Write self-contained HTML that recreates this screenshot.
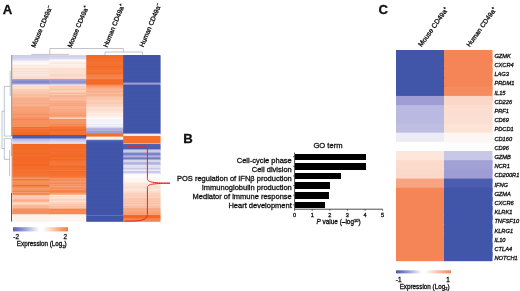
<!DOCTYPE html>
<html><head><meta charset="utf-8"><title>Figure</title>
<style>
html,body{margin:0;padding:0;background:#fff}
body{width:520px;height:291px;overflow:hidden}
svg{display:block;font-family:"Liberation Sans",Arial,Helvetica,sans-serif}
text{stroke:#111;stroke-width:0.3px}
</style></head><body>
<svg width="520" height="291" viewBox="0 0 520 291">
<defs>
<linearGradient id="cbA" x1="0" x2="1" y1="0" y2="0"><stop offset="0" stop-color="#5560b4"/><stop offset="0.24" stop-color="#a8a7d8"/><stop offset="0.48" stop-color="#ffffff"/><stop offset="0.54" stop-color="#ffffff"/><stop offset="1" stop-color="#f47a38"/></linearGradient>
<linearGradient id="cbC" x1="0" x2="1" y1="0" y2="0"><stop offset="0" stop-color="#4357aa"/><stop offset="0.24" stop-color="#a2a1d6"/><stop offset="0.47" stop-color="#ffffff"/><stop offset="0.52" stop-color="#ffffff"/><stop offset="1" stop-color="#f58556"/></linearGradient>
</defs>
<rect width="520" height="291" fill="#fff"/>
<!-- panel letters -->
<g font-weight="bold" font-size="13.2" fill="#111">
<text x="2.8" y="13.9">A</text>
<text x="183.2" y="143.1">B</text>
<text x="378.4" y="14">C</text>
</g>
<!-- A column labels -->
<g font-size="6.6" fill="#111">
<text transform="translate(35.0,48.1) rotate(-67)">Mouse CD49a<tspan font-size="4.5" dy="-2.6">–</tspan></text>
<text transform="translate(71.4,48.1) rotate(-67)">Mouse CD49a<tspan font-size="4.5" dy="-2.6">+</tspan></text>
<text transform="translate(107.2,47.8) rotate(-67.5)">Human CD49a<tspan font-size="4.5" dy="-2.6">+</tspan></text>
<text transform="translate(143.6,47.4) rotate(-67.5)">Human CD49a<tspan font-size="4.5" dy="-2.6">–</tspan></text>
</g>
<!-- top dendrogram -->
<path d="M49.8 54.4V48.5H123.4V52 M105.1 55V52H142.4V55 M31.4 54.4H69" fill="none" stroke="#9a9aa4" stroke-width="0.6"/>
<!-- left dendrogram -->
<path d="M10.2 70.9V96 M10.2 86.4H4.3V136.1 M4.3 111.2H2V148.5 M4.3 136.1H12.4 M4.3 138.6V159.4 M4.3 138.6H11.5 M2 148.5H4.3 M4.3 159.4H9.6 M9.6 150V176 M11.4 138.6V156" fill="none" stroke="#8c93ad" stroke-width="0.55"/>
<path d="M12 55V136 M11.6 193V221.6" fill="none" stroke="#333" stroke-width="0.9"/><path d="M12 143V193" fill="none" stroke="#8a8a90" stroke-width="0.7"/>
<g>
<rect x="12.50" y="55.00" width="37.97" height="1.60" fill="#cdcce9"/>
<rect x="12.50" y="55.80" width="37.97" height="1.60" fill="#cacae8"/>
<rect x="12.50" y="56.60" width="37.97" height="1.60" fill="#d9d9ee"/>
<rect x="12.50" y="57.40" width="37.97" height="1.60" fill="#cccbe8"/>
<rect x="12.50" y="58.20" width="37.97" height="1.60" fill="#dad9ef"/>
<rect x="12.50" y="59.00" width="37.97" height="1.60" fill="#dcdcf0"/>
<rect x="12.50" y="59.80" width="37.97" height="1.60" fill="#dfdff1"/>
<rect x="12.50" y="60.60" width="37.97" height="1.60" fill="#f6f6fb"/>
<rect x="12.50" y="61.40" width="37.97" height="1.60" fill="#f3f3fa"/>
<rect x="12.50" y="62.20" width="37.97" height="1.60" fill="#fef8f5"/>
<rect x="12.50" y="63.00" width="37.97" height="1.60" fill="#fffbf9"/>
<rect x="12.50" y="63.80" width="37.97" height="1.60" fill="#fef8f5"/>
<rect x="12.50" y="64.60" width="37.97" height="1.60" fill="#feeee7"/>
<rect x="12.50" y="65.40" width="37.97" height="1.60" fill="#fde4d7"/>
<rect x="12.50" y="66.20" width="37.97" height="1.60" fill="#fef1eb"/>
<rect x="12.50" y="67.00" width="37.97" height="1.60" fill="#feeee6"/>
<rect x="12.50" y="67.80" width="37.97" height="1.60" fill="#fde5d9"/>
<rect x="12.50" y="68.60" width="37.97" height="1.60" fill="#fcddcd"/>
<rect x="12.50" y="69.40" width="37.97" height="1.60" fill="#fde4d7"/>
<rect x="12.50" y="70.20" width="37.97" height="1.60" fill="#fde7dc"/>
<rect x="12.50" y="71.00" width="37.97" height="1.60" fill="#fcd9c8"/>
<rect x="12.50" y="71.80" width="37.97" height="1.60" fill="#fdece3"/>
<rect x="12.50" y="72.60" width="37.97" height="1.60" fill="#fcdac9"/>
<rect x="12.50" y="73.40" width="37.97" height="1.60" fill="#fde5d9"/>
<rect x="12.50" y="74.20" width="37.97" height="1.60" fill="#fde7dc"/>
<rect x="12.50" y="75.00" width="37.97" height="1.60" fill="#fde7dc"/>
<rect x="12.50" y="75.80" width="37.97" height="1.60" fill="#fde2d4"/>
<rect x="12.50" y="76.60" width="37.97" height="1.60" fill="#fcd6c4"/>
<rect x="12.50" y="77.40" width="37.97" height="1.60" fill="#fde2d6"/>
<rect x="12.50" y="78.20" width="37.97" height="1.60" fill="#fcd9c8"/>
<rect x="12.50" y="79.00" width="37.97" height="1.60" fill="#a6a5d8"/>
<rect x="12.50" y="79.80" width="37.97" height="1.60" fill="#9698d0"/>
<rect x="12.50" y="80.60" width="37.97" height="1.60" fill="#8a8ecb"/>
<rect x="12.50" y="81.40" width="37.97" height="1.60" fill="#7e85c5"/>
<rect x="12.50" y="82.20" width="37.97" height="1.60" fill="#878cca"/>
<rect x="12.50" y="83.00" width="37.97" height="1.60" fill="#9799d1"/>
<rect x="12.50" y="83.80" width="37.97" height="1.60" fill="#a7a6d8"/>
<rect x="12.50" y="84.60" width="37.97" height="1.60" fill="#f9f9fd"/>
<rect x="12.50" y="85.40" width="37.97" height="1.60" fill="#fcdccc"/>
<rect x="12.50" y="86.20" width="37.97" height="1.60" fill="#fcd5c2"/>
<rect x="12.50" y="87.00" width="37.97" height="1.60" fill="#fde0d2"/>
<rect x="12.50" y="87.80" width="37.97" height="1.60" fill="#fcdecf"/>
<rect x="12.50" y="88.60" width="37.97" height="1.60" fill="#fcd8c6"/>
<rect x="12.50" y="89.40" width="37.97" height="1.60" fill="#fbc9b0"/>
<rect x="12.50" y="90.20" width="37.97" height="1.60" fill="#fbcdb7"/>
<rect x="12.50" y="91.00" width="37.97" height="1.60" fill="#fbceb8"/>
<rect x="12.50" y="91.80" width="37.97" height="1.60" fill="#fac5ab"/>
<rect x="12.50" y="92.60" width="37.97" height="1.60" fill="#fac6ad"/>
<rect x="12.50" y="93.40" width="37.97" height="1.60" fill="#fbc8b0"/>
<rect x="12.50" y="94.20" width="37.97" height="1.60" fill="#f9b999"/>
<rect x="12.50" y="95.00" width="37.97" height="1.60" fill="#f9b999"/>
<rect x="12.50" y="95.80" width="37.97" height="1.60" fill="#fac3a8"/>
<rect x="12.50" y="96.60" width="37.97" height="1.60" fill="#f9b897"/>
<rect x="12.50" y="97.40" width="37.97" height="1.60" fill="#f9b696"/>
<rect x="12.50" y="98.20" width="37.97" height="1.60" fill="#f8ab84"/>
<rect x="12.50" y="99.00" width="37.97" height="1.60" fill="#f8ac87"/>
<rect x="12.50" y="99.80" width="37.97" height="1.60" fill="#f9b695"/>
<rect x="12.50" y="100.60" width="37.97" height="1.60" fill="#f8a278"/>
<rect x="12.50" y="101.40" width="37.97" height="1.60" fill="#f9b999"/>
<rect x="12.50" y="102.20" width="37.97" height="1.60" fill="#f9af8c"/>
<rect x="12.50" y="103.00" width="37.97" height="1.60" fill="#f8a57d"/>
<rect x="12.50" y="103.80" width="37.97" height="1.60" fill="#f9b593"/>
<rect x="12.50" y="104.60" width="37.97" height="1.60" fill="#f8aa84"/>
<rect x="12.50" y="105.40" width="37.97" height="1.60" fill="#f9b695"/>
<rect x="12.50" y="106.20" width="37.97" height="1.60" fill="#f8a47a"/>
<rect x="12.50" y="107.00" width="37.97" height="1.60" fill="#f7a075"/>
<rect x="12.50" y="107.80" width="37.97" height="1.60" fill="#f8a47b"/>
<rect x="12.50" y="108.60" width="37.97" height="1.60" fill="#f79b6e"/>
<rect x="12.50" y="109.40" width="37.97" height="1.60" fill="#f8a983"/>
<rect x="12.50" y="110.20" width="37.97" height="1.60" fill="#f79e72"/>
<rect x="12.50" y="111.00" width="37.97" height="1.60" fill="#f7a075"/>
<rect x="12.50" y="111.80" width="37.97" height="1.60" fill="#f79f73"/>
<rect x="12.50" y="112.60" width="37.97" height="1.60" fill="#f7a176"/>
<rect x="12.50" y="113.40" width="37.97" height="1.60" fill="#f79565"/>
<rect x="12.50" y="114.20" width="37.97" height="1.60" fill="#f6905e"/>
<rect x="12.50" y="115.00" width="37.97" height="1.60" fill="#f79b6e"/>
<rect x="12.50" y="115.80" width="37.97" height="1.60" fill="#f79464"/>
<rect x="12.50" y="116.60" width="37.97" height="1.60" fill="#f8a37a"/>
<rect x="12.50" y="117.40" width="37.97" height="1.60" fill="#f6905e"/>
<rect x="12.50" y="118.20" width="37.97" height="1.60" fill="#f6905e"/>
<rect x="12.50" y="119.00" width="37.97" height="1.60" fill="#f5854f"/>
<rect x="12.50" y="119.80" width="37.97" height="1.60" fill="#f68953"/>
<rect x="12.50" y="120.60" width="37.97" height="1.60" fill="#f79666"/>
<rect x="12.50" y="121.40" width="37.97" height="1.60" fill="#f69260"/>
<rect x="12.50" y="122.20" width="37.97" height="1.60" fill="#f68953"/>
<rect x="12.50" y="123.00" width="37.97" height="1.60" fill="#f7996b"/>
<rect x="12.50" y="123.80" width="37.97" height="1.60" fill="#f68b57"/>
<rect x="12.50" y="124.60" width="37.97" height="1.60" fill="#f69261"/>
<rect x="12.50" y="125.40" width="37.97" height="1.60" fill="#f69261"/>
<rect x="12.50" y="126.20" width="37.97" height="1.60" fill="#f6905e"/>
<rect x="12.50" y="127.00" width="37.97" height="1.60" fill="#f36926"/>
<rect x="12.50" y="127.80" width="37.97" height="1.60" fill="#f4783b"/>
<rect x="12.50" y="128.60" width="37.97" height="1.60" fill="#f47435"/>
<rect x="12.50" y="129.40" width="37.97" height="1.60" fill="#f46f2e"/>
<rect x="12.50" y="130.20" width="37.97" height="1.60" fill="#f36824"/>
<rect x="12.50" y="131.00" width="37.97" height="1.60" fill="#f47638"/>
<rect x="12.50" y="131.80" width="37.97" height="1.60" fill="#f36b29"/>
<rect x="12.50" y="132.60" width="37.97" height="1.60" fill="#f36824"/>
<rect x="12.50" y="133.40" width="37.97" height="1.60" fill="#f36824"/>
<rect x="12.50" y="134.20" width="37.97" height="1.60" fill="#f36824"/>
<rect x="12.50" y="135.00" width="37.97" height="1.60" fill="#4b5dae"/>
<rect x="12.50" y="135.80" width="37.97" height="1.60" fill="#4b5dae"/>
<rect x="12.50" y="136.60" width="37.97" height="1.60" fill="#4b5dae"/>
<rect x="12.50" y="137.40" width="37.97" height="1.60" fill="#4b5dae"/>
<rect x="12.50" y="138.20" width="37.97" height="1.60" fill="#9899d1"/>
<rect x="12.50" y="139.00" width="37.97" height="1.60" fill="#b8b7e0"/>
<rect x="12.50" y="139.80" width="37.97" height="1.60" fill="#c0c0e3"/>
<rect x="12.50" y="140.60" width="37.97" height="1.60" fill="#c9c8e7"/>
<rect x="12.50" y="141.40" width="37.97" height="1.60" fill="#d2d2eb"/>
<rect x="12.50" y="142.20" width="37.97" height="1.60" fill="#dcdbef"/>
<rect x="12.50" y="143.00" width="37.97" height="1.60" fill="#ebeaf6"/>
<rect x="12.50" y="143.80" width="37.97" height="1.60" fill="#f36824"/>
<rect x="12.50" y="144.60" width="37.97" height="1.60" fill="#f36824"/>
<rect x="12.50" y="145.40" width="37.97" height="1.60" fill="#f36c29"/>
<rect x="12.50" y="146.20" width="37.97" height="1.60" fill="#f36a26"/>
<rect x="12.50" y="147.00" width="37.97" height="1.60" fill="#f36b28"/>
<rect x="12.50" y="147.80" width="37.97" height="1.60" fill="#f36824"/>
<rect x="12.50" y="148.60" width="37.97" height="1.60" fill="#f36824"/>
<rect x="12.50" y="149.40" width="37.97" height="1.60" fill="#f36e2d"/>
<rect x="12.50" y="150.20" width="37.97" height="1.60" fill="#f36e2c"/>
<rect x="12.50" y="151.00" width="37.97" height="1.60" fill="#f36d2b"/>
<rect x="12.50" y="151.80" width="37.97" height="1.60" fill="#f36d2c"/>
<rect x="12.50" y="152.60" width="37.97" height="1.60" fill="#f36a26"/>
<rect x="12.50" y="153.40" width="37.97" height="1.60" fill="#f36824"/>
<rect x="12.50" y="154.20" width="37.97" height="1.60" fill="#f36d2b"/>
<rect x="12.50" y="155.00" width="37.97" height="1.60" fill="#f47131"/>
<rect x="12.50" y="155.80" width="37.97" height="1.60" fill="#f36b28"/>
<rect x="12.50" y="156.60" width="37.97" height="1.60" fill="#f36c2a"/>
<rect x="12.50" y="157.40" width="37.97" height="1.60" fill="#f36925"/>
<rect x="12.50" y="158.20" width="37.97" height="1.60" fill="#f36824"/>
<rect x="12.50" y="159.00" width="37.97" height="1.60" fill="#f36824"/>
<rect x="12.50" y="159.80" width="37.97" height="1.60" fill="#f36a27"/>
<rect x="12.50" y="160.60" width="37.97" height="1.60" fill="#f36925"/>
<rect x="12.50" y="161.40" width="37.97" height="1.60" fill="#f36824"/>
<rect x="12.50" y="162.20" width="37.97" height="1.60" fill="#f47132"/>
<rect x="12.50" y="163.00" width="37.97" height="1.60" fill="#f36824"/>
<rect x="12.50" y="163.80" width="37.97" height="1.60" fill="#f36824"/>
<rect x="12.50" y="164.60" width="37.97" height="1.60" fill="#f36824"/>
<rect x="12.50" y="165.40" width="37.97" height="1.60" fill="#f36824"/>
<rect x="12.50" y="166.20" width="37.97" height="1.60" fill="#f36d2b"/>
<rect x="12.50" y="167.00" width="37.97" height="1.60" fill="#f36d2b"/>
<rect x="12.50" y="167.80" width="37.97" height="1.60" fill="#f47132"/>
<rect x="12.50" y="168.60" width="37.97" height="1.60" fill="#f36a26"/>
<rect x="12.50" y="169.40" width="37.97" height="1.60" fill="#f47233"/>
<rect x="12.50" y="170.20" width="37.97" height="1.60" fill="#f47233"/>
<rect x="12.50" y="171.00" width="37.97" height="1.60" fill="#f47030"/>
<rect x="12.50" y="171.80" width="37.97" height="1.60" fill="#f47131"/>
<rect x="12.50" y="172.60" width="37.97" height="1.60" fill="#f46f2d"/>
<rect x="12.50" y="173.40" width="37.97" height="1.60" fill="#f47334"/>
<rect x="12.50" y="174.20" width="37.97" height="1.60" fill="#f47435"/>
<rect x="12.50" y="175.00" width="37.97" height="1.60" fill="#f47232"/>
<rect x="12.50" y="175.80" width="37.97" height="1.60" fill="#f4773a"/>
<rect x="12.50" y="176.60" width="37.97" height="1.60" fill="#f5834b"/>
<rect x="12.50" y="177.40" width="37.97" height="1.60" fill="#f68a55"/>
<rect x="12.50" y="178.20" width="37.97" height="1.60" fill="#f79b6d"/>
<rect x="12.50" y="179.00" width="37.97" height="1.60" fill="#f47232"/>
<rect x="12.50" y="179.80" width="37.97" height="1.60" fill="#f57f45"/>
<rect x="12.50" y="180.60" width="37.97" height="1.60" fill="#f79666"/>
<rect x="12.50" y="181.40" width="37.97" height="1.60" fill="#f6915f"/>
<rect x="12.50" y="182.20" width="37.97" height="1.60" fill="#f68d59"/>
<rect x="12.50" y="183.00" width="37.97" height="1.60" fill="#f68c58"/>
<rect x="12.50" y="183.80" width="37.97" height="1.60" fill="#f79869"/>
<rect x="12.50" y="184.60" width="37.97" height="1.60" fill="#f47537"/>
<rect x="12.50" y="185.40" width="37.97" height="1.60" fill="#f46e2d"/>
<rect x="12.50" y="186.20" width="37.97" height="1.60" fill="#f68853"/>
<rect x="12.50" y="187.00" width="37.97" height="1.60" fill="#f68852"/>
<rect x="12.50" y="187.80" width="37.97" height="1.60" fill="#f79b6e"/>
<rect x="12.50" y="188.60" width="37.97" height="1.60" fill="#f79b6d"/>
<rect x="12.50" y="189.40" width="37.97" height="1.60" fill="#f68f5d"/>
<rect x="12.50" y="190.20" width="37.97" height="1.60" fill="#f69363"/>
<rect x="12.50" y="191.00" width="37.97" height="1.60" fill="#f4783c"/>
<rect x="12.50" y="191.80" width="37.97" height="1.60" fill="#f7996b"/>
<rect x="12.50" y="192.60" width="37.97" height="1.60" fill="#f7a075"/>
<rect x="12.50" y="193.40" width="37.97" height="1.60" fill="#f47334"/>
<rect x="12.50" y="194.20" width="37.97" height="1.60" fill="#f7986a"/>
<rect x="12.50" y="195.00" width="37.97" height="1.60" fill="#fac0a3"/>
<rect x="12.50" y="195.80" width="37.97" height="1.60" fill="#fbceb8"/>
<rect x="12.50" y="196.60" width="37.97" height="1.60" fill="#fac5aa"/>
<rect x="12.50" y="197.40" width="37.97" height="1.60" fill="#fbd1bc"/>
<rect x="12.50" y="198.20" width="37.97" height="1.60" fill="#fac5ab"/>
<rect x="12.50" y="199.00" width="37.97" height="1.60" fill="#faba9b"/>
<rect x="12.50" y="199.80" width="37.97" height="1.60" fill="#f8ab85"/>
<rect x="12.50" y="200.60" width="37.97" height="1.60" fill="#f9af8b"/>
<rect x="12.50" y="201.40" width="37.97" height="1.60" fill="#f9b99a"/>
<rect x="12.50" y="202.20" width="37.97" height="1.60" fill="#fcd5c2"/>
<rect x="12.50" y="203.00" width="37.97" height="1.60" fill="#fcdac9"/>
<rect x="12.50" y="203.80" width="37.97" height="1.60" fill="#fbcbb4"/>
<rect x="12.50" y="204.60" width="37.97" height="1.60" fill="#fbd1bc"/>
<rect x="12.50" y="205.40" width="37.97" height="1.60" fill="#f8ad88"/>
<rect x="12.50" y="206.20" width="37.97" height="1.60" fill="#f9b897"/>
<rect x="12.50" y="207.00" width="37.97" height="1.60" fill="#faba9b"/>
<rect x="12.50" y="207.80" width="37.97" height="1.60" fill="#f8ac87"/>
<rect x="12.50" y="208.60" width="37.97" height="1.60" fill="#f6915f"/>
<rect x="12.50" y="209.40" width="37.97" height="1.60" fill="#f69160"/>
<rect x="12.50" y="210.20" width="37.97" height="1.60" fill="#f6905e"/>
<rect x="12.50" y="211.00" width="37.97" height="1.60" fill="#f68e5b"/>
<rect x="12.50" y="211.80" width="37.97" height="1.60" fill="#f68d5a"/>
<rect x="12.50" y="212.60" width="37.97" height="1.60" fill="#f79769"/>
<rect x="12.50" y="213.40" width="37.97" height="1.60" fill="#f68e5b"/>
<rect x="12.50" y="214.20" width="37.97" height="1.60" fill="#fef0e9"/>
<rect x="12.50" y="215.00" width="37.97" height="1.60" fill="#fef0ea"/>
<rect x="12.50" y="215.80" width="37.97" height="1.60" fill="#fef1ea"/>
<rect x="12.50" y="216.60" width="37.97" height="1.60" fill="#fef1eb"/>
<rect x="12.50" y="217.40" width="37.97" height="1.60" fill="#fef1eb"/>
<rect x="12.50" y="218.20" width="37.97" height="1.60" fill="#fef2ec"/>
<rect x="12.50" y="219.00" width="37.97" height="1.60" fill="#fef2ec"/>
<rect x="12.50" y="219.80" width="37.97" height="1.60" fill="#fef2ed"/>
<rect x="12.50" y="220.60" width="37.97" height="1.00" fill="#fef3ed"/>
<rect x="12.50" y="221.40" width="37.97" height="0.20" fill="#fef3ed"/>
<rect x="49.47" y="55.00" width="37.97" height="1.60" fill="#d7d6ed"/>
<rect x="49.47" y="55.80" width="37.97" height="1.60" fill="#d0cfea"/>
<rect x="49.47" y="56.60" width="37.97" height="1.60" fill="#d1d1eb"/>
<rect x="49.47" y="57.40" width="37.97" height="1.60" fill="#d9d9ee"/>
<rect x="49.47" y="58.20" width="37.97" height="1.60" fill="#dadaef"/>
<rect x="49.47" y="59.00" width="37.97" height="1.60" fill="#ebebf6"/>
<rect x="49.47" y="59.80" width="37.97" height="1.60" fill="#fcfcfe"/>
<rect x="49.47" y="60.60" width="37.97" height="1.60" fill="#f8f8fc"/>
<rect x="49.47" y="61.40" width="37.97" height="1.60" fill="#fef2ed"/>
<rect x="49.47" y="62.20" width="37.97" height="1.60" fill="#fdeae0"/>
<rect x="49.47" y="63.00" width="37.97" height="1.60" fill="#fde5da"/>
<rect x="49.47" y="63.80" width="37.97" height="1.60" fill="#fef0e9"/>
<rect x="49.47" y="64.60" width="37.97" height="1.60" fill="#fef1ea"/>
<rect x="49.47" y="65.40" width="37.97" height="1.60" fill="#feefe7"/>
<rect x="49.47" y="66.20" width="37.97" height="1.60" fill="#feeee6"/>
<rect x="49.47" y="67.00" width="37.97" height="1.60" fill="#feede5"/>
<rect x="49.47" y="67.80" width="37.97" height="1.60" fill="#fde3d7"/>
<rect x="49.47" y="68.60" width="37.97" height="1.60" fill="#fcdccd"/>
<rect x="49.47" y="69.40" width="37.97" height="1.60" fill="#fcddcd"/>
<rect x="49.47" y="70.20" width="37.97" height="1.60" fill="#fde3d7"/>
<rect x="49.47" y="71.00" width="37.97" height="1.60" fill="#fcdfd0"/>
<rect x="49.47" y="71.80" width="37.97" height="1.60" fill="#fcdbca"/>
<rect x="49.47" y="72.60" width="37.97" height="1.60" fill="#fde9df"/>
<rect x="49.47" y="73.40" width="37.97" height="1.60" fill="#fcdccc"/>
<rect x="49.47" y="74.20" width="37.97" height="1.60" fill="#fcd5c3"/>
<rect x="49.47" y="75.00" width="37.97" height="1.60" fill="#fcd7c5"/>
<rect x="49.47" y="75.80" width="37.97" height="1.60" fill="#fcd7c5"/>
<rect x="49.47" y="76.60" width="37.97" height="1.60" fill="#fcdccc"/>
<rect x="49.47" y="77.40" width="37.97" height="1.60" fill="#fde1d3"/>
<rect x="49.47" y="78.20" width="37.97" height="1.60" fill="#fcd3bf"/>
<rect x="49.47" y="79.00" width="37.97" height="1.60" fill="#a7a6d8"/>
<rect x="49.47" y="79.80" width="37.97" height="1.60" fill="#a2a1d6"/>
<rect x="49.47" y="80.60" width="37.97" height="1.60" fill="#9799d1"/>
<rect x="49.47" y="81.40" width="37.97" height="1.60" fill="#8d91cc"/>
<rect x="49.47" y="82.20" width="37.97" height="1.60" fill="#9597d0"/>
<rect x="49.47" y="83.00" width="37.97" height="1.60" fill="#a4a3d7"/>
<rect x="49.47" y="83.80" width="37.97" height="1.60" fill="#b1b0dd"/>
<rect x="49.47" y="84.60" width="37.97" height="1.60" fill="#ffffff"/>
<rect x="49.47" y="85.40" width="37.97" height="1.60" fill="#fbcdb7"/>
<rect x="49.47" y="86.20" width="37.97" height="1.60" fill="#fbc7ad"/>
<rect x="49.47" y="87.00" width="37.97" height="1.60" fill="#fcd4c1"/>
<rect x="49.47" y="87.80" width="37.97" height="1.60" fill="#fbd2be"/>
<rect x="49.47" y="88.60" width="37.97" height="1.60" fill="#fac2a6"/>
<rect x="49.47" y="89.40" width="37.97" height="1.60" fill="#fac6ac"/>
<rect x="49.47" y="90.20" width="37.97" height="1.60" fill="#fbd3bf"/>
<rect x="49.47" y="91.00" width="37.97" height="1.60" fill="#fbd2be"/>
<rect x="49.47" y="91.80" width="37.97" height="1.60" fill="#fbd0ba"/>
<rect x="49.47" y="92.60" width="37.97" height="1.60" fill="#f9b99a"/>
<rect x="49.47" y="93.40" width="37.97" height="1.60" fill="#faba9b"/>
<rect x="49.47" y="94.20" width="37.97" height="1.60" fill="#fbcab2"/>
<rect x="49.47" y="95.00" width="37.97" height="1.60" fill="#f9b695"/>
<rect x="49.47" y="95.80" width="37.97" height="1.60" fill="#f9b08c"/>
<rect x="49.47" y="96.60" width="37.97" height="1.60" fill="#f9b696"/>
<rect x="49.47" y="97.40" width="37.97" height="1.60" fill="#fabd9f"/>
<rect x="49.47" y="98.20" width="37.97" height="1.60" fill="#f9b694"/>
<rect x="49.47" y="99.00" width="37.97" height="1.60" fill="#fabfa2"/>
<rect x="49.47" y="99.80" width="37.97" height="1.60" fill="#fac0a4"/>
<rect x="49.47" y="100.60" width="37.97" height="1.60" fill="#f8a57d"/>
<rect x="49.47" y="101.40" width="37.97" height="1.60" fill="#f8ad88"/>
<rect x="49.47" y="102.20" width="37.97" height="1.60" fill="#f9b08c"/>
<rect x="49.47" y="103.00" width="37.97" height="1.60" fill="#f8a37a"/>
<rect x="49.47" y="103.80" width="37.97" height="1.60" fill="#f9b08c"/>
<rect x="49.47" y="104.60" width="37.97" height="1.60" fill="#f8a37a"/>
<rect x="49.47" y="105.40" width="37.97" height="1.60" fill="#f8a37a"/>
<rect x="49.47" y="106.20" width="37.97" height="1.60" fill="#f9b391"/>
<rect x="49.47" y="107.00" width="37.97" height="1.60" fill="#f9b18e"/>
<rect x="49.47" y="107.80" width="37.97" height="1.60" fill="#f9af8b"/>
<rect x="49.47" y="108.60" width="37.97" height="1.60" fill="#f9af8b"/>
<rect x="49.47" y="109.40" width="37.97" height="1.60" fill="#f8a57c"/>
<rect x="49.47" y="110.20" width="37.97" height="1.60" fill="#f8ad88"/>
<rect x="49.47" y="111.00" width="37.97" height="1.60" fill="#f8a780"/>
<rect x="49.47" y="111.80" width="37.97" height="1.60" fill="#f9ae8a"/>
<rect x="49.47" y="112.60" width="37.97" height="1.60" fill="#f79769"/>
<rect x="49.47" y="113.40" width="37.97" height="1.60" fill="#f8a57c"/>
<rect x="49.47" y="114.20" width="37.97" height="1.60" fill="#f8a176"/>
<rect x="49.47" y="115.00" width="37.97" height="1.60" fill="#f79c6f"/>
<rect x="49.47" y="115.80" width="37.97" height="1.60" fill="#f69160"/>
<rect x="49.47" y="116.60" width="37.97" height="1.60" fill="#f9b999"/>
<rect x="49.47" y="117.40" width="37.97" height="1.60" fill="#fac6ad"/>
<rect x="49.47" y="118.20" width="37.97" height="1.60" fill="#fbd2bd"/>
<rect x="49.47" y="119.00" width="37.97" height="1.60" fill="#f69160"/>
<rect x="49.47" y="119.80" width="37.97" height="1.60" fill="#f6905e"/>
<rect x="49.47" y="120.60" width="37.97" height="1.60" fill="#f79d70"/>
<rect x="49.47" y="121.40" width="37.97" height="1.60" fill="#f6905e"/>
<rect x="49.47" y="122.20" width="37.97" height="1.60" fill="#f79566"/>
<rect x="49.47" y="123.00" width="37.97" height="1.60" fill="#f7996b"/>
<rect x="49.47" y="123.80" width="37.97" height="1.60" fill="#f5824a"/>
<rect x="49.47" y="124.60" width="37.97" height="1.60" fill="#f69260"/>
<rect x="49.47" y="125.40" width="37.97" height="1.60" fill="#f68853"/>
<rect x="49.47" y="126.20" width="37.97" height="1.60" fill="#f57e44"/>
<rect x="49.47" y="127.00" width="37.97" height="1.60" fill="#f47232"/>
<rect x="49.47" y="127.80" width="37.97" height="1.60" fill="#f47537"/>
<rect x="49.47" y="128.60" width="37.97" height="1.60" fill="#f4702f"/>
<rect x="49.47" y="129.40" width="37.97" height="1.60" fill="#f36e2d"/>
<rect x="49.47" y="130.20" width="37.97" height="1.60" fill="#f36824"/>
<rect x="49.47" y="131.00" width="37.97" height="1.60" fill="#f4793d"/>
<rect x="49.47" y="131.80" width="37.97" height="1.60" fill="#f36c2a"/>
<rect x="49.47" y="132.60" width="37.97" height="1.60" fill="#f47436"/>
<rect x="49.47" y="133.40" width="37.97" height="1.60" fill="#f47334"/>
<rect x="49.47" y="134.20" width="37.97" height="1.60" fill="#f36d2b"/>
<rect x="49.47" y="135.00" width="37.97" height="1.60" fill="#4b5dae"/>
<rect x="49.47" y="135.80" width="37.97" height="1.60" fill="#4b5dae"/>
<rect x="49.47" y="136.60" width="37.97" height="1.60" fill="#4b5dae"/>
<rect x="49.47" y="137.40" width="37.97" height="1.60" fill="#4b5dae"/>
<rect x="49.47" y="138.20" width="37.97" height="1.60" fill="#9e9ed4"/>
<rect x="49.47" y="139.00" width="37.97" height="1.60" fill="#c0bfe3"/>
<rect x="49.47" y="139.80" width="37.97" height="1.60" fill="#c8c7e7"/>
<rect x="49.47" y="140.60" width="37.97" height="1.60" fill="#d0d0ea"/>
<rect x="49.47" y="141.40" width="37.97" height="1.60" fill="#d8d8ee"/>
<rect x="49.47" y="142.20" width="37.97" height="1.60" fill="#e1e1f2"/>
<rect x="49.47" y="143.00" width="37.97" height="1.60" fill="#eeeef8"/>
<rect x="49.47" y="143.80" width="37.97" height="1.60" fill="#f36824"/>
<rect x="49.47" y="144.60" width="37.97" height="1.60" fill="#f36d2b"/>
<rect x="49.47" y="145.40" width="37.97" height="1.60" fill="#f36c29"/>
<rect x="49.47" y="146.20" width="37.97" height="1.60" fill="#f36824"/>
<rect x="49.47" y="147.00" width="37.97" height="1.60" fill="#f36824"/>
<rect x="49.47" y="147.80" width="37.97" height="1.60" fill="#f46f2e"/>
<rect x="49.47" y="148.60" width="37.97" height="1.60" fill="#f36b29"/>
<rect x="49.47" y="149.40" width="37.97" height="1.60" fill="#f36e2c"/>
<rect x="49.47" y="150.20" width="37.97" height="1.60" fill="#f36e2c"/>
<rect x="49.47" y="151.00" width="37.97" height="1.60" fill="#f36a27"/>
<rect x="49.47" y="151.80" width="37.97" height="1.60" fill="#f46f2e"/>
<rect x="49.47" y="152.60" width="37.97" height="1.60" fill="#f36e2c"/>
<rect x="49.47" y="153.40" width="37.97" height="1.60" fill="#f46f2e"/>
<rect x="49.47" y="154.20" width="37.97" height="1.60" fill="#f36824"/>
<rect x="49.47" y="155.00" width="37.97" height="1.60" fill="#f36a28"/>
<rect x="49.47" y="155.80" width="37.97" height="1.60" fill="#f36824"/>
<rect x="49.47" y="156.60" width="37.97" height="1.60" fill="#f36824"/>
<rect x="49.47" y="157.40" width="37.97" height="1.60" fill="#f47436"/>
<rect x="49.47" y="158.20" width="37.97" height="1.60" fill="#f36e2d"/>
<rect x="49.47" y="159.00" width="37.97" height="1.60" fill="#f36824"/>
<rect x="49.47" y="159.80" width="37.97" height="1.60" fill="#f36825"/>
<rect x="49.47" y="160.60" width="37.97" height="1.60" fill="#f4773a"/>
<rect x="49.47" y="161.40" width="37.97" height="1.60" fill="#f4783b"/>
<rect x="49.47" y="162.20" width="37.97" height="1.60" fill="#f47131"/>
<rect x="49.47" y="163.00" width="37.97" height="1.60" fill="#f4793d"/>
<rect x="49.47" y="163.80" width="37.97" height="1.60" fill="#f47638"/>
<rect x="49.47" y="164.60" width="37.97" height="1.60" fill="#f47a3d"/>
<rect x="49.47" y="165.40" width="37.97" height="1.60" fill="#f36d2b"/>
<rect x="49.47" y="166.20" width="37.97" height="1.60" fill="#f36b28"/>
<rect x="49.47" y="167.00" width="37.97" height="1.60" fill="#f36925"/>
<rect x="49.47" y="167.80" width="37.97" height="1.60" fill="#f4783c"/>
<rect x="49.47" y="168.60" width="37.97" height="1.60" fill="#f36d2b"/>
<rect x="49.47" y="169.40" width="37.97" height="1.60" fill="#f36e2d"/>
<rect x="49.47" y="170.20" width="37.97" height="1.60" fill="#f4793d"/>
<rect x="49.47" y="171.00" width="37.97" height="1.60" fill="#f36a26"/>
<rect x="49.47" y="171.80" width="37.97" height="1.60" fill="#f36824"/>
<rect x="49.47" y="172.60" width="37.97" height="1.60" fill="#f4783b"/>
<rect x="49.47" y="173.40" width="37.97" height="1.60" fill="#f36925"/>
<rect x="49.47" y="174.20" width="37.97" height="1.60" fill="#f47436"/>
<rect x="49.47" y="175.00" width="37.97" height="1.60" fill="#f47334"/>
<rect x="49.47" y="175.80" width="37.97" height="1.60" fill="#f36d2b"/>
<rect x="49.47" y="176.60" width="37.97" height="1.60" fill="#f68954"/>
<rect x="49.47" y="177.40" width="37.97" height="1.60" fill="#f47a3d"/>
<rect x="49.47" y="178.20" width="37.97" height="1.60" fill="#f79a6d"/>
<rect x="49.47" y="179.00" width="37.97" height="1.60" fill="#f68e5b"/>
<rect x="49.47" y="179.80" width="37.97" height="1.60" fill="#f68a56"/>
<rect x="49.47" y="180.60" width="37.97" height="1.60" fill="#f69362"/>
<rect x="49.47" y="181.40" width="37.97" height="1.60" fill="#f79a6d"/>
<rect x="49.47" y="182.20" width="37.97" height="1.60" fill="#f79565"/>
<rect x="49.47" y="183.00" width="37.97" height="1.60" fill="#f58249"/>
<rect x="49.47" y="183.80" width="37.97" height="1.60" fill="#f8a47b"/>
<rect x="49.47" y="184.60" width="37.97" height="1.60" fill="#f68b56"/>
<rect x="49.47" y="185.40" width="37.97" height="1.60" fill="#f6915f"/>
<rect x="49.47" y="186.20" width="37.97" height="1.60" fill="#f8a67d"/>
<rect x="49.47" y="187.00" width="37.97" height="1.60" fill="#f79768"/>
<rect x="49.47" y="187.80" width="37.97" height="1.60" fill="#f68954"/>
<rect x="49.47" y="188.60" width="37.97" height="1.60" fill="#f68f5c"/>
<rect x="49.47" y="189.40" width="37.97" height="1.60" fill="#f8a57c"/>
<rect x="49.47" y="190.20" width="37.97" height="1.60" fill="#f4793d"/>
<rect x="49.47" y="191.00" width="37.97" height="1.60" fill="#f5834b"/>
<rect x="49.47" y="191.80" width="37.97" height="1.60" fill="#f47a3f"/>
<rect x="49.47" y="192.60" width="37.97" height="1.60" fill="#f8a57c"/>
<rect x="49.47" y="193.40" width="37.97" height="1.60" fill="#f79d71"/>
<rect x="49.47" y="194.20" width="37.97" height="1.60" fill="#f9b390"/>
<rect x="49.47" y="195.00" width="37.97" height="1.60" fill="#fde9df"/>
<rect x="49.47" y="195.80" width="37.97" height="1.60" fill="#fcd6c4"/>
<rect x="49.47" y="196.60" width="37.97" height="1.60" fill="#fde2d5"/>
<rect x="49.47" y="197.40" width="37.97" height="1.60" fill="#fde5da"/>
<rect x="49.47" y="198.20" width="37.97" height="1.60" fill="#fcdecf"/>
<rect x="49.47" y="199.00" width="37.97" height="1.60" fill="#fbd2bd"/>
<rect x="49.47" y="199.80" width="37.97" height="1.60" fill="#fcd3c0"/>
<rect x="49.47" y="200.60" width="37.97" height="1.60" fill="#fde1d3"/>
<rect x="49.47" y="201.40" width="37.97" height="1.60" fill="#fde3d6"/>
<rect x="49.47" y="202.20" width="37.97" height="1.60" fill="#fbd0bb"/>
<rect x="49.47" y="203.00" width="37.97" height="1.60" fill="#fcd8c6"/>
<rect x="49.47" y="203.80" width="37.97" height="1.60" fill="#fabea0"/>
<rect x="49.47" y="204.60" width="37.97" height="1.60" fill="#fbccb5"/>
<rect x="49.47" y="205.40" width="37.97" height="1.60" fill="#fbccb5"/>
<rect x="49.47" y="206.20" width="37.97" height="1.60" fill="#fabc9e"/>
<rect x="49.47" y="207.00" width="37.97" height="1.60" fill="#fac2a7"/>
<rect x="49.47" y="207.80" width="37.97" height="1.60" fill="#fbcab2"/>
<rect x="49.47" y="208.60" width="37.97" height="1.60" fill="#f5834b"/>
<rect x="49.47" y="209.40" width="37.97" height="1.60" fill="#f68a55"/>
<rect x="49.47" y="210.20" width="37.97" height="1.60" fill="#f5854e"/>
<rect x="49.47" y="211.00" width="37.97" height="1.60" fill="#f79666"/>
<rect x="49.47" y="211.80" width="37.97" height="1.60" fill="#f5824a"/>
<rect x="49.47" y="212.60" width="37.97" height="1.60" fill="#f79565"/>
<rect x="49.47" y="213.40" width="37.97" height="1.60" fill="#f58148"/>
<rect x="49.47" y="214.20" width="37.97" height="1.60" fill="#fef3ee"/>
<rect x="49.47" y="215.00" width="37.97" height="1.60" fill="#fef3ee"/>
<rect x="49.47" y="215.80" width="37.97" height="1.60" fill="#fef4ef"/>
<rect x="49.47" y="216.60" width="37.97" height="1.60" fill="#fef4ef"/>
<rect x="49.47" y="217.40" width="37.97" height="1.60" fill="#fef4f0"/>
<rect x="49.47" y="218.20" width="37.97" height="1.60" fill="#fef5f0"/>
<rect x="49.47" y="219.00" width="37.97" height="1.60" fill="#fef5f1"/>
<rect x="49.47" y="219.80" width="37.97" height="1.60" fill="#fef5f1"/>
<rect x="49.47" y="220.60" width="37.97" height="1.00" fill="#fef6f2"/>
<rect x="49.47" y="221.40" width="37.97" height="0.20" fill="#fef6f2"/>
<rect x="86.44" y="55.00" width="37.97" height="1.60" fill="#f36926"/>
<rect x="86.44" y="55.80" width="37.97" height="1.60" fill="#f36c29"/>
<rect x="86.44" y="56.60" width="37.97" height="1.60" fill="#f36824"/>
<rect x="86.44" y="57.40" width="37.97" height="1.60" fill="#f36824"/>
<rect x="86.44" y="58.20" width="37.97" height="1.60" fill="#f36e2d"/>
<rect x="86.44" y="59.00" width="37.97" height="1.60" fill="#f47131"/>
<rect x="86.44" y="59.80" width="37.97" height="1.60" fill="#f36926"/>
<rect x="86.44" y="60.60" width="37.97" height="1.60" fill="#f46f2f"/>
<rect x="86.44" y="61.40" width="37.97" height="1.60" fill="#f47233"/>
<rect x="86.44" y="62.20" width="37.97" height="1.60" fill="#f47232"/>
<rect x="86.44" y="63.00" width="37.97" height="1.60" fill="#f47436"/>
<rect x="86.44" y="63.80" width="37.97" height="1.60" fill="#f47131"/>
<rect x="86.44" y="64.60" width="37.97" height="1.60" fill="#f46f2e"/>
<rect x="86.44" y="65.40" width="37.97" height="1.60" fill="#f4702f"/>
<rect x="86.44" y="66.20" width="37.97" height="1.60" fill="#f36824"/>
<rect x="86.44" y="67.00" width="37.97" height="1.60" fill="#f47030"/>
<rect x="86.44" y="67.80" width="37.97" height="1.60" fill="#f36c2a"/>
<rect x="86.44" y="68.60" width="37.97" height="1.60" fill="#f47334"/>
<rect x="86.44" y="69.40" width="37.97" height="1.60" fill="#f47030"/>
<rect x="86.44" y="70.20" width="37.97" height="1.60" fill="#f4773a"/>
<rect x="86.44" y="71.00" width="37.97" height="1.60" fill="#f47233"/>
<rect x="86.44" y="71.80" width="37.97" height="1.60" fill="#f4783b"/>
<rect x="86.44" y="72.60" width="37.97" height="1.60" fill="#f36925"/>
<rect x="86.44" y="73.40" width="37.97" height="1.60" fill="#f36d2b"/>
<rect x="86.44" y="74.20" width="37.97" height="1.60" fill="#f57f46"/>
<rect x="86.44" y="75.00" width="37.97" height="1.60" fill="#f58149"/>
<rect x="86.44" y="75.80" width="37.97" height="1.60" fill="#f4793c"/>
<rect x="86.44" y="76.60" width="37.97" height="1.60" fill="#f68c57"/>
<rect x="86.44" y="77.40" width="37.97" height="1.60" fill="#f57e43"/>
<rect x="86.44" y="78.20" width="37.97" height="1.60" fill="#f58751"/>
<rect x="86.44" y="79.00" width="37.97" height="1.60" fill="#f47436"/>
<rect x="86.44" y="79.80" width="37.97" height="1.60" fill="#f36824"/>
<rect x="86.44" y="80.60" width="37.97" height="1.60" fill="#f36d2c"/>
<rect x="86.44" y="81.40" width="37.97" height="1.60" fill="#f36b28"/>
<rect x="86.44" y="82.20" width="37.97" height="1.60" fill="#f36824"/>
<rect x="86.44" y="83.00" width="37.97" height="1.60" fill="#f36824"/>
<rect x="86.44" y="83.80" width="37.97" height="1.60" fill="#f46e2d"/>
<rect x="86.44" y="84.60" width="37.97" height="1.60" fill="#f5844d"/>
<rect x="86.44" y="85.40" width="37.97" height="1.60" fill="#f7996b"/>
<rect x="86.44" y="86.20" width="37.97" height="1.60" fill="#f79d71"/>
<rect x="86.44" y="87.00" width="37.97" height="1.60" fill="#f8a47b"/>
<rect x="86.44" y="87.80" width="37.97" height="1.60" fill="#f8a881"/>
<rect x="86.44" y="88.60" width="37.97" height="1.60" fill="#f9b18d"/>
<rect x="86.44" y="89.40" width="37.97" height="1.60" fill="#f9b28f"/>
<rect x="86.44" y="90.20" width="37.97" height="1.60" fill="#f9b594"/>
<rect x="86.44" y="91.00" width="37.97" height="1.60" fill="#f8a982"/>
<rect x="86.44" y="91.80" width="37.97" height="1.60" fill="#f9b594"/>
<rect x="86.44" y="92.60" width="37.97" height="1.60" fill="#f9b999"/>
<rect x="86.44" y="93.40" width="37.97" height="1.60" fill="#fabc9e"/>
<rect x="86.44" y="94.20" width="37.97" height="1.60" fill="#f9ae8a"/>
<rect x="86.44" y="95.00" width="37.97" height="1.60" fill="#f9b08c"/>
<rect x="86.44" y="95.80" width="37.97" height="1.60" fill="#f9b796"/>
<rect x="86.44" y="96.60" width="37.97" height="1.60" fill="#fac2a6"/>
<rect x="86.44" y="97.40" width="37.97" height="1.60" fill="#fac5ab"/>
<rect x="86.44" y="98.20" width="37.97" height="1.60" fill="#fbc7ad"/>
<rect x="86.44" y="99.00" width="37.97" height="1.60" fill="#fac6ac"/>
<rect x="86.44" y="99.80" width="37.97" height="1.60" fill="#fbcfb9"/>
<rect x="86.44" y="100.60" width="37.97" height="1.60" fill="#fbcbb4"/>
<rect x="86.44" y="101.40" width="37.97" height="1.60" fill="#fbd2bd"/>
<rect x="86.44" y="102.20" width="37.97" height="1.60" fill="#fac5aa"/>
<rect x="86.44" y="103.00" width="37.97" height="1.60" fill="#fac6ac"/>
<rect x="86.44" y="103.80" width="37.97" height="1.60" fill="#fbd1bc"/>
<rect x="86.44" y="104.60" width="37.97" height="1.60" fill="#fcd9c8"/>
<rect x="86.44" y="105.40" width="37.97" height="1.60" fill="#fbcbb4"/>
<rect x="86.44" y="106.20" width="37.97" height="1.60" fill="#fcdbca"/>
<rect x="86.44" y="107.00" width="37.97" height="1.60" fill="#fcdbcb"/>
<rect x="86.44" y="107.80" width="37.97" height="1.60" fill="#fde5d9"/>
<rect x="86.44" y="108.60" width="37.97" height="1.60" fill="#fcdecf"/>
<rect x="86.44" y="109.40" width="37.97" height="1.60" fill="#fcdecf"/>
<rect x="86.44" y="110.20" width="37.97" height="1.60" fill="#fcdfd0"/>
<rect x="86.44" y="111.00" width="37.97" height="1.60" fill="#fde6db"/>
<rect x="86.44" y="111.80" width="37.97" height="1.60" fill="#fde1d4"/>
<rect x="86.44" y="112.60" width="37.97" height="1.60" fill="#feede5"/>
<rect x="86.44" y="113.40" width="37.97" height="1.60" fill="#fde9df"/>
<rect x="86.44" y="114.20" width="37.97" height="1.60" fill="#feeee6"/>
<rect x="86.44" y="115.00" width="37.97" height="1.60" fill="#fde9df"/>
<rect x="86.44" y="115.80" width="37.97" height="1.60" fill="#fef1eb"/>
<rect x="86.44" y="116.60" width="37.97" height="1.60" fill="#fef3ee"/>
<rect x="86.44" y="117.40" width="37.97" height="1.60" fill="#fef2ec"/>
<rect x="86.44" y="118.20" width="37.97" height="1.60" fill="#fffdfc"/>
<rect x="86.44" y="119.00" width="37.97" height="1.60" fill="#f6f6fb"/>
<rect x="86.44" y="119.80" width="37.97" height="1.60" fill="#f1f0f9"/>
<rect x="86.44" y="120.60" width="37.97" height="1.60" fill="#f6f6fb"/>
<rect x="86.44" y="121.40" width="37.97" height="1.60" fill="#f3f3fa"/>
<rect x="86.44" y="122.20" width="37.97" height="1.60" fill="#f4f4fa"/>
<rect x="86.44" y="123.00" width="37.97" height="1.60" fill="#f8f8fc"/>
<rect x="86.44" y="123.80" width="37.97" height="1.60" fill="#ebebf6"/>
<rect x="86.44" y="124.60" width="37.97" height="1.60" fill="#e9e9f5"/>
<rect x="86.44" y="125.40" width="37.97" height="1.60" fill="#fafafd"/>
<rect x="86.44" y="126.20" width="37.97" height="1.60" fill="#e3e3f3"/>
<rect x="86.44" y="127.00" width="37.97" height="1.60" fill="#e0dff1"/>
<rect x="86.44" y="127.80" width="37.97" height="1.60" fill="#c0bfe3"/>
<rect x="86.44" y="128.60" width="37.97" height="1.60" fill="#a9a8d9"/>
<rect x="86.44" y="129.40" width="37.97" height="1.60" fill="#b6b5df"/>
<rect x="86.44" y="130.20" width="37.97" height="1.60" fill="#b0afdc"/>
<rect x="86.44" y="131.00" width="37.97" height="1.60" fill="#a2a1d6"/>
<rect x="86.44" y="131.80" width="37.97" height="1.60" fill="#9f9ed4"/>
<rect x="86.44" y="132.60" width="37.97" height="1.60" fill="#a1a0d5"/>
<rect x="86.44" y="133.40" width="37.97" height="1.60" fill="#f4702f"/>
<rect x="86.44" y="134.20" width="37.97" height="1.60" fill="#f4702f"/>
<rect x="86.44" y="135.00" width="37.97" height="1.60" fill="#f4702f"/>
<rect x="86.44" y="135.80" width="37.97" height="1.60" fill="#f4702f"/>
<rect x="86.44" y="136.60" width="37.97" height="1.60" fill="#fef0e9"/>
<rect x="86.44" y="137.40" width="37.97" height="1.60" fill="#fef3ed"/>
<rect x="86.44" y="138.20" width="37.97" height="1.60" fill="#fef5f1"/>
<rect x="86.44" y="139.00" width="37.97" height="1.60" fill="#e9e8f5"/>
<rect x="86.44" y="139.80" width="37.97" height="1.60" fill="#616eb8"/>
<rect x="86.44" y="140.60" width="37.97" height="1.60" fill="#5363b1"/>
<rect x="86.44" y="141.40" width="37.97" height="1.60" fill="#4558ab"/>
<rect x="86.44" y="142.20" width="37.97" height="1.60" fill="#4155a9"/>
<rect x="86.44" y="143.00" width="37.97" height="1.60" fill="#4155a9"/>
<rect x="86.44" y="143.80" width="37.97" height="1.60" fill="#4155a9"/>
<rect x="86.44" y="144.60" width="37.97" height="1.60" fill="#4155a9"/>
<rect x="86.44" y="145.40" width="37.97" height="1.60" fill="#4155a9"/>
<rect x="86.44" y="146.20" width="37.97" height="1.60" fill="#4155a9"/>
<rect x="86.44" y="147.00" width="37.97" height="1.60" fill="#4155a9"/>
<rect x="86.44" y="147.80" width="37.97" height="1.60" fill="#4155a9"/>
<rect x="86.44" y="148.60" width="37.97" height="1.60" fill="#4155a9"/>
<rect x="86.44" y="149.40" width="37.97" height="1.60" fill="#4155a9"/>
<rect x="86.44" y="150.20" width="37.97" height="1.60" fill="#4155a9"/>
<rect x="86.44" y="151.00" width="37.97" height="1.60" fill="#4155a9"/>
<rect x="86.44" y="151.80" width="37.97" height="1.60" fill="#4155a9"/>
<rect x="86.44" y="152.60" width="37.97" height="1.60" fill="#4155a9"/>
<rect x="86.44" y="153.40" width="37.97" height="1.60" fill="#4155a9"/>
<rect x="86.44" y="154.20" width="37.97" height="1.60" fill="#4155a9"/>
<rect x="86.44" y="155.00" width="37.97" height="1.60" fill="#4155a9"/>
<rect x="86.44" y="155.80" width="37.97" height="1.60" fill="#4155a9"/>
<rect x="86.44" y="156.60" width="37.97" height="1.60" fill="#4155a9"/>
<rect x="86.44" y="157.40" width="37.97" height="1.60" fill="#4155a9"/>
<rect x="86.44" y="158.20" width="37.97" height="1.60" fill="#4155a9"/>
<rect x="86.44" y="159.00" width="37.97" height="1.60" fill="#4155a9"/>
<rect x="86.44" y="159.80" width="37.97" height="1.60" fill="#4155a9"/>
<rect x="86.44" y="160.60" width="37.97" height="1.60" fill="#4155a9"/>
<rect x="86.44" y="161.40" width="37.97" height="1.60" fill="#4155a9"/>
<rect x="86.44" y="162.20" width="37.97" height="1.60" fill="#4155a9"/>
<rect x="86.44" y="163.00" width="37.97" height="1.60" fill="#4155a9"/>
<rect x="86.44" y="163.80" width="37.97" height="1.60" fill="#4155a9"/>
<rect x="86.44" y="164.60" width="37.97" height="1.60" fill="#4155a9"/>
<rect x="86.44" y="165.40" width="37.97" height="1.60" fill="#4155a9"/>
<rect x="86.44" y="166.20" width="37.97" height="1.60" fill="#4155a9"/>
<rect x="86.44" y="167.00" width="37.97" height="1.60" fill="#4155a9"/>
<rect x="86.44" y="167.80" width="37.97" height="1.60" fill="#4155a9"/>
<rect x="86.44" y="168.60" width="37.97" height="1.60" fill="#4155a9"/>
<rect x="86.44" y="169.40" width="37.97" height="1.60" fill="#4155a9"/>
<rect x="86.44" y="170.20" width="37.97" height="1.60" fill="#4155a9"/>
<rect x="86.44" y="171.00" width="37.97" height="1.60" fill="#4155a9"/>
<rect x="86.44" y="171.80" width="37.97" height="1.60" fill="#4155a9"/>
<rect x="86.44" y="172.60" width="37.97" height="1.60" fill="#4155a9"/>
<rect x="86.44" y="173.40" width="37.97" height="1.60" fill="#4155a9"/>
<rect x="86.44" y="174.20" width="37.97" height="1.60" fill="#4155a9"/>
<rect x="86.44" y="175.00" width="37.97" height="1.60" fill="#4155a9"/>
<rect x="86.44" y="175.80" width="37.97" height="1.60" fill="#4155a9"/>
<rect x="86.44" y="176.60" width="37.97" height="1.60" fill="#4155a9"/>
<rect x="86.44" y="177.40" width="37.97" height="1.60" fill="#4155a9"/>
<rect x="86.44" y="178.20" width="37.97" height="1.60" fill="#4155a9"/>
<rect x="86.44" y="179.00" width="37.97" height="1.60" fill="#4155a9"/>
<rect x="86.44" y="179.80" width="37.97" height="1.60" fill="#4155a9"/>
<rect x="86.44" y="180.60" width="37.97" height="1.60" fill="#4155a9"/>
<rect x="86.44" y="181.40" width="37.97" height="1.60" fill="#4155a9"/>
<rect x="86.44" y="182.20" width="37.97" height="1.60" fill="#4155a9"/>
<rect x="86.44" y="183.00" width="37.97" height="1.60" fill="#4155a9"/>
<rect x="86.44" y="183.80" width="37.97" height="1.60" fill="#4155a9"/>
<rect x="86.44" y="184.60" width="37.97" height="1.60" fill="#4155a9"/>
<rect x="86.44" y="185.40" width="37.97" height="1.60" fill="#4155a9"/>
<rect x="86.44" y="186.20" width="37.97" height="1.60" fill="#4155a9"/>
<rect x="86.44" y="187.00" width="37.97" height="1.60" fill="#4155a9"/>
<rect x="86.44" y="187.80" width="37.97" height="1.60" fill="#4155a9"/>
<rect x="86.44" y="188.60" width="37.97" height="1.60" fill="#4155a9"/>
<rect x="86.44" y="189.40" width="37.97" height="1.60" fill="#4155a9"/>
<rect x="86.44" y="190.20" width="37.97" height="1.60" fill="#4155a9"/>
<rect x="86.44" y="191.00" width="37.97" height="1.60" fill="#4155a9"/>
<rect x="86.44" y="191.80" width="37.97" height="1.60" fill="#4155a9"/>
<rect x="86.44" y="192.60" width="37.97" height="1.60" fill="#4155a9"/>
<rect x="86.44" y="193.40" width="37.97" height="1.60" fill="#4155a9"/>
<rect x="86.44" y="194.20" width="37.97" height="1.60" fill="#4155a9"/>
<rect x="86.44" y="195.00" width="37.97" height="1.60" fill="#4155a9"/>
<rect x="86.44" y="195.80" width="37.97" height="1.60" fill="#4155a9"/>
<rect x="86.44" y="196.60" width="37.97" height="1.60" fill="#4155a9"/>
<rect x="86.44" y="197.40" width="37.97" height="1.60" fill="#4155a9"/>
<rect x="86.44" y="198.20" width="37.97" height="1.60" fill="#4155a9"/>
<rect x="86.44" y="199.00" width="37.97" height="1.60" fill="#4155a9"/>
<rect x="86.44" y="199.80" width="37.97" height="1.60" fill="#4155a9"/>
<rect x="86.44" y="200.60" width="37.97" height="1.60" fill="#4155a9"/>
<rect x="86.44" y="201.40" width="37.97" height="1.60" fill="#4155a9"/>
<rect x="86.44" y="202.20" width="37.97" height="1.60" fill="#4155a9"/>
<rect x="86.44" y="203.00" width="37.97" height="1.60" fill="#4155a9"/>
<rect x="86.44" y="203.80" width="37.97" height="1.60" fill="#4155a9"/>
<rect x="86.44" y="204.60" width="37.97" height="1.60" fill="#4155a9"/>
<rect x="86.44" y="205.40" width="37.97" height="1.60" fill="#4155a9"/>
<rect x="86.44" y="206.20" width="37.97" height="1.60" fill="#4155a9"/>
<rect x="86.44" y="207.00" width="37.97" height="1.60" fill="#4155a9"/>
<rect x="86.44" y="207.80" width="37.97" height="1.60" fill="#4155a9"/>
<rect x="86.44" y="208.60" width="37.97" height="1.60" fill="#4155a9"/>
<rect x="86.44" y="209.40" width="37.97" height="1.60" fill="#4155a9"/>
<rect x="86.44" y="210.20" width="37.97" height="1.60" fill="#4155a9"/>
<rect x="86.44" y="211.00" width="37.97" height="1.60" fill="#4155a9"/>
<rect x="86.44" y="211.80" width="37.97" height="1.60" fill="#4155a9"/>
<rect x="86.44" y="212.60" width="37.97" height="1.60" fill="#4155a9"/>
<rect x="86.44" y="213.40" width="37.97" height="1.60" fill="#4155a9"/>
<rect x="86.44" y="214.20" width="37.97" height="1.60" fill="#4155a9"/>
<rect x="86.44" y="215.00" width="37.97" height="1.60" fill="#6a75bc"/>
<rect x="86.44" y="215.80" width="37.97" height="1.60" fill="#4155a9"/>
<rect x="86.44" y="216.60" width="37.97" height="1.60" fill="#4155a9"/>
<rect x="86.44" y="217.40" width="37.97" height="1.60" fill="#4155a9"/>
<rect x="86.44" y="218.20" width="37.97" height="1.60" fill="#4155a9"/>
<rect x="86.44" y="219.00" width="37.97" height="1.60" fill="#4155a9"/>
<rect x="86.44" y="219.80" width="37.97" height="1.60" fill="#4155a9"/>
<rect x="86.44" y="220.60" width="37.97" height="1.00" fill="#4155a9"/>
<rect x="86.44" y="221.40" width="37.97" height="0.20" fill="#4155a9"/>
<rect x="123.41" y="55.00" width="36.97" height="1.60" fill="#4155a9"/>
<rect x="123.41" y="55.80" width="36.97" height="1.60" fill="#4155a9"/>
<rect x="123.41" y="56.60" width="36.97" height="1.60" fill="#4155a9"/>
<rect x="123.41" y="57.40" width="36.97" height="1.60" fill="#4155a9"/>
<rect x="123.41" y="58.20" width="36.97" height="1.60" fill="#4155a9"/>
<rect x="123.41" y="59.00" width="36.97" height="1.60" fill="#4155a9"/>
<rect x="123.41" y="59.80" width="36.97" height="1.60" fill="#4155a9"/>
<rect x="123.41" y="60.60" width="36.97" height="1.60" fill="#4155a9"/>
<rect x="123.41" y="61.40" width="36.97" height="1.60" fill="#4155a9"/>
<rect x="123.41" y="62.20" width="36.97" height="1.60" fill="#4155a9"/>
<rect x="123.41" y="63.00" width="36.97" height="1.60" fill="#4155a9"/>
<rect x="123.41" y="63.80" width="36.97" height="1.60" fill="#4155a9"/>
<rect x="123.41" y="64.60" width="36.97" height="1.60" fill="#4155a9"/>
<rect x="123.41" y="65.40" width="36.97" height="1.60" fill="#4155a9"/>
<rect x="123.41" y="66.20" width="36.97" height="1.60" fill="#4155a9"/>
<rect x="123.41" y="67.00" width="36.97" height="1.60" fill="#4155a9"/>
<rect x="123.41" y="67.80" width="36.97" height="1.60" fill="#4155a9"/>
<rect x="123.41" y="68.60" width="36.97" height="1.60" fill="#4155a9"/>
<rect x="123.41" y="69.40" width="36.97" height="1.60" fill="#4155a9"/>
<rect x="123.41" y="70.20" width="36.97" height="1.60" fill="#4155a9"/>
<rect x="123.41" y="71.00" width="36.97" height="1.60" fill="#4155a9"/>
<rect x="123.41" y="71.80" width="36.97" height="1.60" fill="#4155a9"/>
<rect x="123.41" y="72.60" width="36.97" height="1.60" fill="#4155a9"/>
<rect x="123.41" y="73.40" width="36.97" height="1.60" fill="#4155a9"/>
<rect x="123.41" y="74.20" width="36.97" height="1.60" fill="#4155a9"/>
<rect x="123.41" y="75.00" width="36.97" height="1.60" fill="#4155a9"/>
<rect x="123.41" y="75.80" width="36.97" height="1.60" fill="#4155a9"/>
<rect x="123.41" y="76.60" width="36.97" height="1.60" fill="#4155a9"/>
<rect x="123.41" y="77.40" width="36.97" height="1.60" fill="#4155a9"/>
<rect x="123.41" y="78.20" width="36.97" height="1.60" fill="#4155a9"/>
<rect x="123.41" y="79.00" width="36.97" height="1.60" fill="#4155a9"/>
<rect x="123.41" y="79.80" width="36.97" height="1.60" fill="#4155a9"/>
<rect x="123.41" y="80.60" width="36.97" height="1.60" fill="#4155a9"/>
<rect x="123.41" y="81.40" width="36.97" height="1.60" fill="#4155a9"/>
<rect x="123.41" y="82.20" width="36.97" height="1.60" fill="#717bbf"/>
<rect x="123.41" y="83.00" width="36.97" height="1.60" fill="#a2a1d6"/>
<rect x="123.41" y="83.80" width="36.97" height="1.60" fill="#a2a1d6"/>
<rect x="123.41" y="84.60" width="36.97" height="1.60" fill="#4155a9"/>
<rect x="123.41" y="85.40" width="36.97" height="1.60" fill="#4155a9"/>
<rect x="123.41" y="86.20" width="36.97" height="1.60" fill="#4155a9"/>
<rect x="123.41" y="87.00" width="36.97" height="1.60" fill="#4155a9"/>
<rect x="123.41" y="87.80" width="36.97" height="1.60" fill="#4155a9"/>
<rect x="123.41" y="88.60" width="36.97" height="1.60" fill="#4155a9"/>
<rect x="123.41" y="89.40" width="36.97" height="1.60" fill="#4155a9"/>
<rect x="123.41" y="90.20" width="36.97" height="1.60" fill="#4155a9"/>
<rect x="123.41" y="91.00" width="36.97" height="1.60" fill="#4155a9"/>
<rect x="123.41" y="91.80" width="36.97" height="1.60" fill="#4155a9"/>
<rect x="123.41" y="92.60" width="36.97" height="1.60" fill="#4155a9"/>
<rect x="123.41" y="93.40" width="36.97" height="1.60" fill="#4155a9"/>
<rect x="123.41" y="94.20" width="36.97" height="1.60" fill="#4155a9"/>
<rect x="123.41" y="95.00" width="36.97" height="1.60" fill="#4155a9"/>
<rect x="123.41" y="95.80" width="36.97" height="1.60" fill="#4155a9"/>
<rect x="123.41" y="96.60" width="36.97" height="1.60" fill="#4155a9"/>
<rect x="123.41" y="97.40" width="36.97" height="1.60" fill="#4155a9"/>
<rect x="123.41" y="98.20" width="36.97" height="1.60" fill="#4155a9"/>
<rect x="123.41" y="99.00" width="36.97" height="1.60" fill="#4155a9"/>
<rect x="123.41" y="99.80" width="36.97" height="1.60" fill="#4155a9"/>
<rect x="123.41" y="100.60" width="36.97" height="1.60" fill="#4155a9"/>
<rect x="123.41" y="101.40" width="36.97" height="1.60" fill="#4155a9"/>
<rect x="123.41" y="102.20" width="36.97" height="1.60" fill="#4155a9"/>
<rect x="123.41" y="103.00" width="36.97" height="1.60" fill="#4155a9"/>
<rect x="123.41" y="103.80" width="36.97" height="1.60" fill="#4155a9"/>
<rect x="123.41" y="104.60" width="36.97" height="1.60" fill="#4155a9"/>
<rect x="123.41" y="105.40" width="36.97" height="1.60" fill="#4155a9"/>
<rect x="123.41" y="106.20" width="36.97" height="1.60" fill="#4155a9"/>
<rect x="123.41" y="107.00" width="36.97" height="1.60" fill="#4155a9"/>
<rect x="123.41" y="107.80" width="36.97" height="1.60" fill="#4155a9"/>
<rect x="123.41" y="108.60" width="36.97" height="1.60" fill="#4155a9"/>
<rect x="123.41" y="109.40" width="36.97" height="1.60" fill="#4155a9"/>
<rect x="123.41" y="110.20" width="36.97" height="1.60" fill="#4155a9"/>
<rect x="123.41" y="111.00" width="36.97" height="1.60" fill="#4155a9"/>
<rect x="123.41" y="111.80" width="36.97" height="1.60" fill="#4155a9"/>
<rect x="123.41" y="112.60" width="36.97" height="1.60" fill="#4155a9"/>
<rect x="123.41" y="113.40" width="36.97" height="1.60" fill="#4155a9"/>
<rect x="123.41" y="114.20" width="36.97" height="1.60" fill="#4155a9"/>
<rect x="123.41" y="115.00" width="36.97" height="1.60" fill="#4155a9"/>
<rect x="123.41" y="115.80" width="36.97" height="1.60" fill="#4155a9"/>
<rect x="123.41" y="116.60" width="36.97" height="1.60" fill="#4155a9"/>
<rect x="123.41" y="117.40" width="36.97" height="1.60" fill="#4155a9"/>
<rect x="123.41" y="118.20" width="36.97" height="1.60" fill="#4155a9"/>
<rect x="123.41" y="119.00" width="36.97" height="1.60" fill="#4155a9"/>
<rect x="123.41" y="119.80" width="36.97" height="1.60" fill="#4155a9"/>
<rect x="123.41" y="120.60" width="36.97" height="1.60" fill="#4155a9"/>
<rect x="123.41" y="121.40" width="36.97" height="1.60" fill="#4155a9"/>
<rect x="123.41" y="122.20" width="36.97" height="1.60" fill="#4155a9"/>
<rect x="123.41" y="123.00" width="36.97" height="1.60" fill="#4155a9"/>
<rect x="123.41" y="123.80" width="36.97" height="1.60" fill="#4155a9"/>
<rect x="123.41" y="124.60" width="36.97" height="1.60" fill="#4155a9"/>
<rect x="123.41" y="125.40" width="36.97" height="1.60" fill="#4155a9"/>
<rect x="123.41" y="126.20" width="36.97" height="1.60" fill="#4155a9"/>
<rect x="123.41" y="127.00" width="36.97" height="1.60" fill="#4155a9"/>
<rect x="123.41" y="127.80" width="36.97" height="1.60" fill="#4155a9"/>
<rect x="123.41" y="128.60" width="36.97" height="1.60" fill="#4155a9"/>
<rect x="123.41" y="129.40" width="36.97" height="1.60" fill="#4155a9"/>
<rect x="123.41" y="130.20" width="36.97" height="1.60" fill="#4155a9"/>
<rect x="123.41" y="131.00" width="36.97" height="1.60" fill="#4155a9"/>
<rect x="123.41" y="131.80" width="36.97" height="1.60" fill="#4155a9"/>
<rect x="123.41" y="132.60" width="36.97" height="1.60" fill="#4155a9"/>
<rect x="123.41" y="133.40" width="36.97" height="1.60" fill="#bbbae1"/>
<rect x="123.41" y="134.20" width="36.97" height="1.60" fill="#fafafd"/>
<rect x="123.41" y="135.00" width="36.97" height="1.60" fill="#ffffff"/>
<rect x="123.41" y="135.80" width="36.97" height="1.60" fill="#f4702f"/>
<rect x="123.41" y="136.60" width="36.97" height="1.60" fill="#f4702f"/>
<rect x="123.41" y="137.40" width="36.97" height="1.60" fill="#f4702f"/>
<rect x="123.41" y="138.20" width="36.97" height="1.60" fill="#f4702f"/>
<rect x="123.41" y="139.00" width="36.97" height="1.60" fill="#f4702f"/>
<rect x="123.41" y="139.80" width="36.97" height="1.60" fill="#f4702f"/>
<rect x="123.41" y="140.60" width="36.97" height="1.60" fill="#f4702f"/>
<rect x="123.41" y="141.40" width="36.97" height="1.60" fill="#f4702f"/>
<rect x="123.41" y="142.20" width="36.97" height="1.60" fill="#f4702f"/>
<rect x="123.41" y="143.00" width="36.97" height="1.60" fill="#cacae8"/>
<rect x="123.41" y="143.80" width="36.97" height="1.60" fill="#5363b2"/>
<rect x="123.41" y="144.60" width="36.97" height="1.60" fill="#5262b1"/>
<rect x="123.41" y="145.40" width="36.97" height="1.60" fill="#5161b0"/>
<rect x="123.41" y="146.20" width="36.97" height="1.60" fill="#4f60b0"/>
<rect x="123.41" y="147.00" width="36.97" height="1.60" fill="#4e5faf"/>
<rect x="123.41" y="147.80" width="36.97" height="1.60" fill="#4d5eae"/>
<rect x="123.41" y="148.60" width="36.97" height="1.60" fill="#4b5dae"/>
<rect x="123.41" y="149.40" width="36.97" height="1.60" fill="#cbcae8"/>
<rect x="123.41" y="150.20" width="36.97" height="1.60" fill="#cbcae8"/>
<rect x="123.41" y="151.00" width="36.97" height="1.60" fill="#cbcae8"/>
<rect x="123.41" y="151.80" width="36.97" height="1.60" fill="#cbcae8"/>
<rect x="123.41" y="152.60" width="36.97" height="1.60" fill="#7b83c4"/>
<rect x="123.41" y="153.40" width="36.97" height="1.60" fill="#7b83c4"/>
<rect x="123.41" y="154.20" width="36.97" height="1.60" fill="#7b83c4"/>
<rect x="123.41" y="155.00" width="36.97" height="1.60" fill="#9899d2"/>
<rect x="123.41" y="155.80" width="36.97" height="1.60" fill="#b5b4de"/>
<rect x="123.41" y="156.60" width="36.97" height="1.60" fill="#b5b4de"/>
<rect x="123.41" y="157.40" width="36.97" height="1.60" fill="#727bc0"/>
<rect x="123.41" y="158.20" width="36.97" height="1.60" fill="#727bc0"/>
<rect x="123.41" y="159.00" width="36.97" height="1.60" fill="#9b9bd3"/>
<rect x="123.41" y="159.80" width="36.97" height="1.60" fill="#d6d6ed"/>
<rect x="123.41" y="160.60" width="36.97" height="1.60" fill="#d6d6ed"/>
<rect x="123.41" y="161.40" width="36.97" height="1.60" fill="#d6d6ed"/>
<rect x="123.41" y="162.20" width="36.97" height="1.60" fill="#b1b0dd"/>
<rect x="123.41" y="163.00" width="36.97" height="1.60" fill="#b1b0dd"/>
<rect x="123.41" y="163.80" width="36.97" height="1.60" fill="#b1b0dd"/>
<rect x="123.41" y="164.60" width="36.97" height="1.60" fill="#e1e1f2"/>
<rect x="123.41" y="165.40" width="36.97" height="1.60" fill="#e1e1f2"/>
<rect x="123.41" y="166.20" width="36.97" height="1.60" fill="#e1e1f2"/>
<rect x="123.41" y="167.00" width="36.97" height="1.60" fill="#e1e1f2"/>
<rect x="123.41" y="167.80" width="36.97" height="1.60" fill="#c7c7e6"/>
<rect x="123.41" y="168.60" width="36.97" height="1.60" fill="#c7c7e6"/>
<rect x="123.41" y="169.40" width="36.97" height="1.60" fill="#e9e8f5"/>
<rect x="123.41" y="170.20" width="36.97" height="1.60" fill="#e9e8f5"/>
<rect x="123.41" y="171.00" width="36.97" height="1.60" fill="#cbcae8"/>
<rect x="123.41" y="171.80" width="36.97" height="1.60" fill="#cbcae8"/>
<rect x="123.41" y="172.60" width="36.97" height="1.60" fill="#cbcae8"/>
<rect x="123.41" y="173.40" width="36.97" height="1.60" fill="#f7f7fb"/>
<rect x="123.41" y="174.20" width="36.97" height="1.60" fill="#f9f9fc"/>
<rect x="123.41" y="175.00" width="36.97" height="1.60" fill="#fbfbfd"/>
<rect x="123.41" y="175.80" width="36.97" height="1.60" fill="#ffffff"/>
<rect x="123.41" y="176.60" width="36.97" height="1.60" fill="#fffaf8"/>
<rect x="123.41" y="177.40" width="36.97" height="1.60" fill="#fff9f6"/>
<rect x="123.41" y="178.20" width="36.97" height="1.60" fill="#fef7f4"/>
<rect x="123.41" y="179.00" width="36.97" height="1.60" fill="#fef6f1"/>
<rect x="123.41" y="179.80" width="36.97" height="1.60" fill="#fef4ef"/>
<rect x="123.41" y="180.60" width="36.97" height="1.60" fill="#fffcfa"/>
<rect x="123.41" y="181.40" width="36.97" height="1.60" fill="#fef1eb"/>
<rect x="123.41" y="182.20" width="36.97" height="1.60" fill="#fef0e9"/>
<rect x="123.41" y="183.00" width="36.97" height="1.60" fill="#fde7dc"/>
<rect x="123.41" y="183.80" width="36.97" height="1.60" fill="#fde6db"/>
<rect x="123.41" y="184.60" width="36.97" height="1.60" fill="#fde4d7"/>
<rect x="123.41" y="185.40" width="36.97" height="1.60" fill="#fde7dc"/>
<rect x="123.41" y="186.20" width="36.97" height="1.60" fill="#fcddce"/>
<rect x="123.41" y="187.00" width="36.97" height="1.60" fill="#fcdfd1"/>
<rect x="123.41" y="187.80" width="36.97" height="1.60" fill="#fcddcd"/>
<rect x="123.41" y="188.60" width="36.97" height="1.60" fill="#fde5da"/>
<rect x="123.41" y="189.40" width="36.97" height="1.60" fill="#fde8de"/>
<rect x="123.41" y="190.20" width="36.97" height="1.60" fill="#fde4d8"/>
<rect x="123.41" y="191.00" width="36.97" height="1.60" fill="#fcddce"/>
<rect x="123.41" y="191.80" width="36.97" height="1.60" fill="#fde2d4"/>
<rect x="123.41" y="192.60" width="36.97" height="1.60" fill="#fbceb9"/>
<rect x="123.41" y="193.40" width="36.97" height="1.60" fill="#fcd4c0"/>
<rect x="123.41" y="194.20" width="36.97" height="1.60" fill="#fbd0bb"/>
<rect x="123.41" y="195.00" width="36.97" height="1.60" fill="#fbcfb9"/>
<rect x="123.41" y="195.80" width="36.97" height="1.60" fill="#fbccb5"/>
<rect x="123.41" y="196.60" width="36.97" height="1.60" fill="#fbcfb9"/>
<rect x="123.41" y="197.40" width="36.97" height="1.60" fill="#fcd9c8"/>
<rect x="123.41" y="198.20" width="36.97" height="1.60" fill="#fac4aa"/>
<rect x="123.41" y="199.00" width="36.97" height="1.60" fill="#fac4aa"/>
<rect x="123.41" y="199.80" width="36.97" height="1.60" fill="#fbc8b0"/>
<rect x="123.41" y="200.60" width="36.97" height="1.60" fill="#fac6ad"/>
<rect x="123.41" y="201.40" width="36.97" height="1.60" fill="#fac2a6"/>
<rect x="123.41" y="202.20" width="36.97" height="1.60" fill="#fbcfb9"/>
<rect x="123.41" y="203.00" width="36.97" height="1.60" fill="#fabda0"/>
<rect x="123.41" y="203.80" width="36.97" height="1.60" fill="#fbc8af"/>
<rect x="123.41" y="204.60" width="36.97" height="1.60" fill="#fbcbb3"/>
<rect x="123.41" y="205.40" width="36.97" height="1.60" fill="#fac5ab"/>
<rect x="123.41" y="206.20" width="36.97" height="1.60" fill="#f9b999"/>
<rect x="123.41" y="207.00" width="36.97" height="1.60" fill="#fac4a9"/>
<rect x="123.41" y="207.80" width="36.97" height="1.60" fill="#f9b695"/>
<rect x="123.41" y="208.60" width="36.97" height="1.60" fill="#f7a076"/>
<rect x="123.41" y="209.40" width="36.97" height="1.60" fill="#f8ab85"/>
<rect x="123.41" y="210.20" width="36.97" height="1.60" fill="#f8ad88"/>
<rect x="123.41" y="211.00" width="36.97" height="1.60" fill="#f8a983"/>
<rect x="123.41" y="211.80" width="36.97" height="1.60" fill="#f8a37a"/>
<rect x="123.41" y="212.60" width="36.97" height="1.60" fill="#f7a076"/>
<rect x="123.41" y="213.40" width="36.97" height="1.60" fill="#f8a379"/>
<rect x="123.41" y="214.20" width="36.97" height="1.60" fill="#f8a177"/>
<rect x="123.41" y="215.00" width="36.97" height="1.60" fill="#f36824"/>
<rect x="123.41" y="215.80" width="36.97" height="1.60" fill="#f36824"/>
<rect x="123.41" y="216.60" width="36.97" height="1.60" fill="#f36824"/>
<rect x="123.41" y="217.40" width="36.97" height="1.60" fill="#f36824"/>
<rect x="123.41" y="218.20" width="36.97" height="1.60" fill="#f5844c"/>
<rect x="123.41" y="219.00" width="36.97" height="1.60" fill="#f5844d"/>
<rect x="123.41" y="219.80" width="36.97" height="1.60" fill="#f5854e"/>
<rect x="123.41" y="220.60" width="36.97" height="1.00" fill="#f5864f"/>
<rect x="123.41" y="221.40" width="36.97" height="0.20" fill="#f5864f"/>
</g>
<!-- red curve -->
<path d="M127.6 146.8H145.4Q147.4 146.8 147.4 148.8V178.4C147.4 181.8 150.5 183 170 183.2C150.5 183.4 147.4 184.6 147.4 188V214.5C147.4 219 143 220.6 134 221L124.6 221.2" fill="none" stroke="#e8252a" stroke-width="1"/>
<!-- colorbar A -->
<rect x="13" y="227.2" width="55" height="4.2" fill="url(#cbA)"/>
<g font-size="6.4" fill="#111" text-anchor="middle"><text x="16.2" y="238.6">-2</text><text x="65.2" y="238.6">2</text>
<text x="41.8" y="246.3" font-size="6.3">Expression (Log<tspan font-size="4" dy="1.4">2</tspan><tspan dy="-1.4">)</tspan></text></g>
<!-- B -->
<g fill="#000" shape-rendering="crispEdges">
<rect x="294.60" y="153.60" width="70.93" height="6.4"/>
<rect x="294.60" y="163.23" width="70.93" height="6.4"/>
<rect x="294.60" y="172.86" width="45.94" height="6.4"/>
<rect x="294.60" y="182.49" width="35.38" height="6.4"/>
<rect x="294.60" y="192.12" width="34.32" height="6.4"/>
<rect x="294.60" y="201.75" width="30.45" height="6.4"/>
</g>
<g font-size="7.5" fill="#111" text-anchor="end">
<text x="291.8" y="162.75">Cell-cycle phase</text>
<text x="291.8" y="171.71">Cell division</text>
<text x="291.8" y="180.67">POS regulation of IFNβ production</text>
<text x="291.8" y="189.63">Immunoglobulin production</text>
<text x="291.8" y="198.59">Mediator of immune response</text>
<text x="291.8" y="207.55">Heart development</text>
</g>
<path d="M294.60 152.6V209.2H382.60" fill="none" stroke="#000" stroke-width="0.7"/>
<path d="M294.60 209.2v1.6 M312.20 209.2v1.6 M329.80 209.2v1.6 M347.40 209.2v1.6 M365.00 209.2v1.6 M382.60 209.2v1.6 M294.60 156.70h-1.6 M294.60 166.33h-1.6 M294.60 175.96h-1.6 M294.60 185.59h-1.6 M294.60 195.22h-1.6 M294.60 204.85h-1.6" fill="none" stroke="#000" stroke-width="0.6"/>
<g font-size="5.6" fill="#111" text-anchor="middle">
<text x="294.60" y="216.5">0</text>
<text x="312.20" y="216.5">1</text>
<text x="329.80" y="216.5">2</text>
<text x="347.40" y="216.5">3</text>
<text x="365.00" y="216.5">4</text>
<text x="382.60" y="216.5">5</text>
</g>
<text x="328" y="148.3" font-size="7.6" text-anchor="middle" fill="#111">GO term</text>
<text x="338.5" y="224.1" font-size="6.45" text-anchor="middle" fill="#111"><tspan font-style="italic">P</tspan> value (–log<tspan font-size="4" dy="-1.8">10</tspan><tspan dy="1.8">)</tspan></text>
<!-- C -->
<g font-size="6.9" fill="#111">
<text transform="translate(421.6,47.3) rotate(-54.5)">Mouse CD49a<tspan font-size="4.5" dy="-2.6">+</tspan></text>
<text font-size="6.65" transform="translate(469.8,47.3) rotate(-54.5)">Human CD49a<tspan font-size="4.5" dy="-2.6">+</tspan></text>
</g>
<g>
<rect x="396.00" y="50.00" width="49.00" height="13.77" fill="#4155a9"/>
<rect x="444.00" y="50.00" width="48.50" height="13.77" fill="#f58556"/>
<rect x="396.00" y="59.18" width="49.00" height="13.77" fill="#4155a9"/>
<rect x="444.00" y="59.18" width="48.50" height="13.77" fill="#f58556"/>
<rect x="396.00" y="68.37" width="49.00" height="13.77" fill="#4155a9"/>
<rect x="444.00" y="68.37" width="48.50" height="13.77" fill="#f58556"/>
<rect x="396.00" y="77.55" width="49.00" height="13.77" fill="#4155a9"/>
<rect x="444.00" y="77.55" width="48.50" height="13.77" fill="#f58556"/>
<rect x="396.00" y="86.73" width="49.00" height="13.77" fill="#4155a9"/>
<rect x="444.00" y="86.73" width="48.50" height="13.77" fill="#f68b5e"/>
<rect x="396.00" y="95.91" width="49.00" height="13.77" fill="#9e9ed4"/>
<rect x="444.00" y="95.91" width="48.50" height="13.77" fill="#fcd7c7"/>
<rect x="396.00" y="105.10" width="49.00" height="13.77" fill="#bab9e1"/>
<rect x="444.00" y="105.10" width="48.50" height="13.77" fill="#fcded1"/>
<rect x="396.00" y="114.28" width="49.00" height="13.77" fill="#bab9e1"/>
<rect x="444.00" y="114.28" width="48.50" height="13.77" fill="#fcdfd3"/>
<rect x="396.00" y="123.46" width="49.00" height="13.77" fill="#bebde2"/>
<rect x="444.00" y="123.46" width="48.50" height="13.77" fill="#fde2d6"/>
<rect x="396.00" y="132.64" width="49.00" height="13.77" fill="#ececf7"/>
<rect x="444.00" y="132.64" width="48.50" height="13.77" fill="#fef6f3"/>
<rect x="396.00" y="141.83" width="49.00" height="13.77" fill="#ffffff"/>
<rect x="444.00" y="141.83" width="48.50" height="13.77" fill="#fdfdfe"/>
<rect x="396.00" y="151.01" width="49.00" height="13.77" fill="#fde7dd"/>
<rect x="444.00" y="151.01" width="48.50" height="13.77" fill="#c7c7e6"/>
<rect x="396.00" y="160.19" width="49.00" height="13.77" fill="#fcdacc"/>
<rect x="444.00" y="160.19" width="48.50" height="13.77" fill="#a2a1d6"/>
<rect x="396.00" y="169.37" width="49.00" height="13.77" fill="#fcd8c9"/>
<rect x="444.00" y="169.37" width="48.50" height="13.77" fill="#9e9ed4"/>
<rect x="396.00" y="178.56" width="49.00" height="13.77" fill="#f8a480"/>
<rect x="444.00" y="178.56" width="48.50" height="13.77" fill="#4b5dae"/>
<rect x="396.00" y="187.74" width="49.00" height="13.77" fill="#f58556"/>
<rect x="444.00" y="187.74" width="48.50" height="13.77" fill="#4155a9"/>
<rect x="396.00" y="196.92" width="49.00" height="13.77" fill="#f58556"/>
<rect x="444.00" y="196.92" width="48.50" height="13.77" fill="#4155a9"/>
<rect x="396.00" y="206.10" width="49.00" height="13.77" fill="#f58556"/>
<rect x="444.00" y="206.10" width="48.50" height="13.77" fill="#4155a9"/>
<rect x="396.00" y="215.29" width="49.00" height="13.77" fill="#f58556"/>
<rect x="444.00" y="215.29" width="48.50" height="13.77" fill="#4155a9"/>
<rect x="396.00" y="224.47" width="49.00" height="13.77" fill="#f58556"/>
<rect x="444.00" y="224.47" width="48.50" height="13.77" fill="#4155a9"/>
<rect x="396.00" y="233.65" width="49.00" height="13.77" fill="#f58556"/>
<rect x="444.00" y="233.65" width="48.50" height="13.77" fill="#4155a9"/>
<rect x="396.00" y="242.83" width="49.00" height="13.77" fill="#f58556"/>
<rect x="444.00" y="242.83" width="48.50" height="13.77" fill="#4155a9"/>
<rect x="396.00" y="252.02" width="49.00" height="9.18" fill="#f58556"/>
<rect x="444.00" y="252.02" width="48.50" height="9.18" fill="#4155a9"/>
</g>
<g font-style="italic" font-size="5.7" fill="#111">
<text x="494.4" y="57.80">GZMK</text>
<text x="494.4" y="67.00">CXCR4</text>
<text x="494.4" y="76.19">LAG3</text>
<text x="494.4" y="85.38">PRDM1</text>
<text x="494.4" y="94.58">IL15</text>
<text x="494.4" y="103.78">CD226</text>
<text x="494.4" y="112.97">PRF1</text>
<text x="494.4" y="122.17">CD69</text>
<text x="494.4" y="131.36">PDCD1</text>
<text x="494.4" y="140.56">CD160</text>
<text x="494.4" y="149.75">CD96</text>
<text x="494.4" y="158.94">GZMB</text>
<text x="494.4" y="168.14">NCR1</text>
<text x="494.4" y="177.33">CD200R1</text>
<text x="494.4" y="186.53">IFNG</text>
<text x="494.4" y="195.73">GZMA</text>
<text x="494.4" y="204.92">CXCR6</text>
<text x="494.4" y="214.12">KLRK1</text>
<text x="494.4" y="223.31">TNFSF10</text>
<text x="494.4" y="232.50">KLRG1</text>
<text x="494.4" y="241.70">IL10</text>
<text x="494.4" y="250.89">CTLA4</text>
<text x="494.4" y="260.09">NOTCH1</text>
</g>
<rect x="396" y="270.3" width="55" height="3.1" fill="url(#cbC)"/>
<g font-size="6.4" fill="#111" text-anchor="middle"><text x="398.7" y="281.6">-1</text><text x="448" y="281.6">1</text>
<text x="424.6" y="288.5" font-size="6.3">Expression (Log<tspan font-size="4" dy="1.4">2</tspan><tspan dy="-1.4">)</tspan></text></g>
</svg>
</body></html>
